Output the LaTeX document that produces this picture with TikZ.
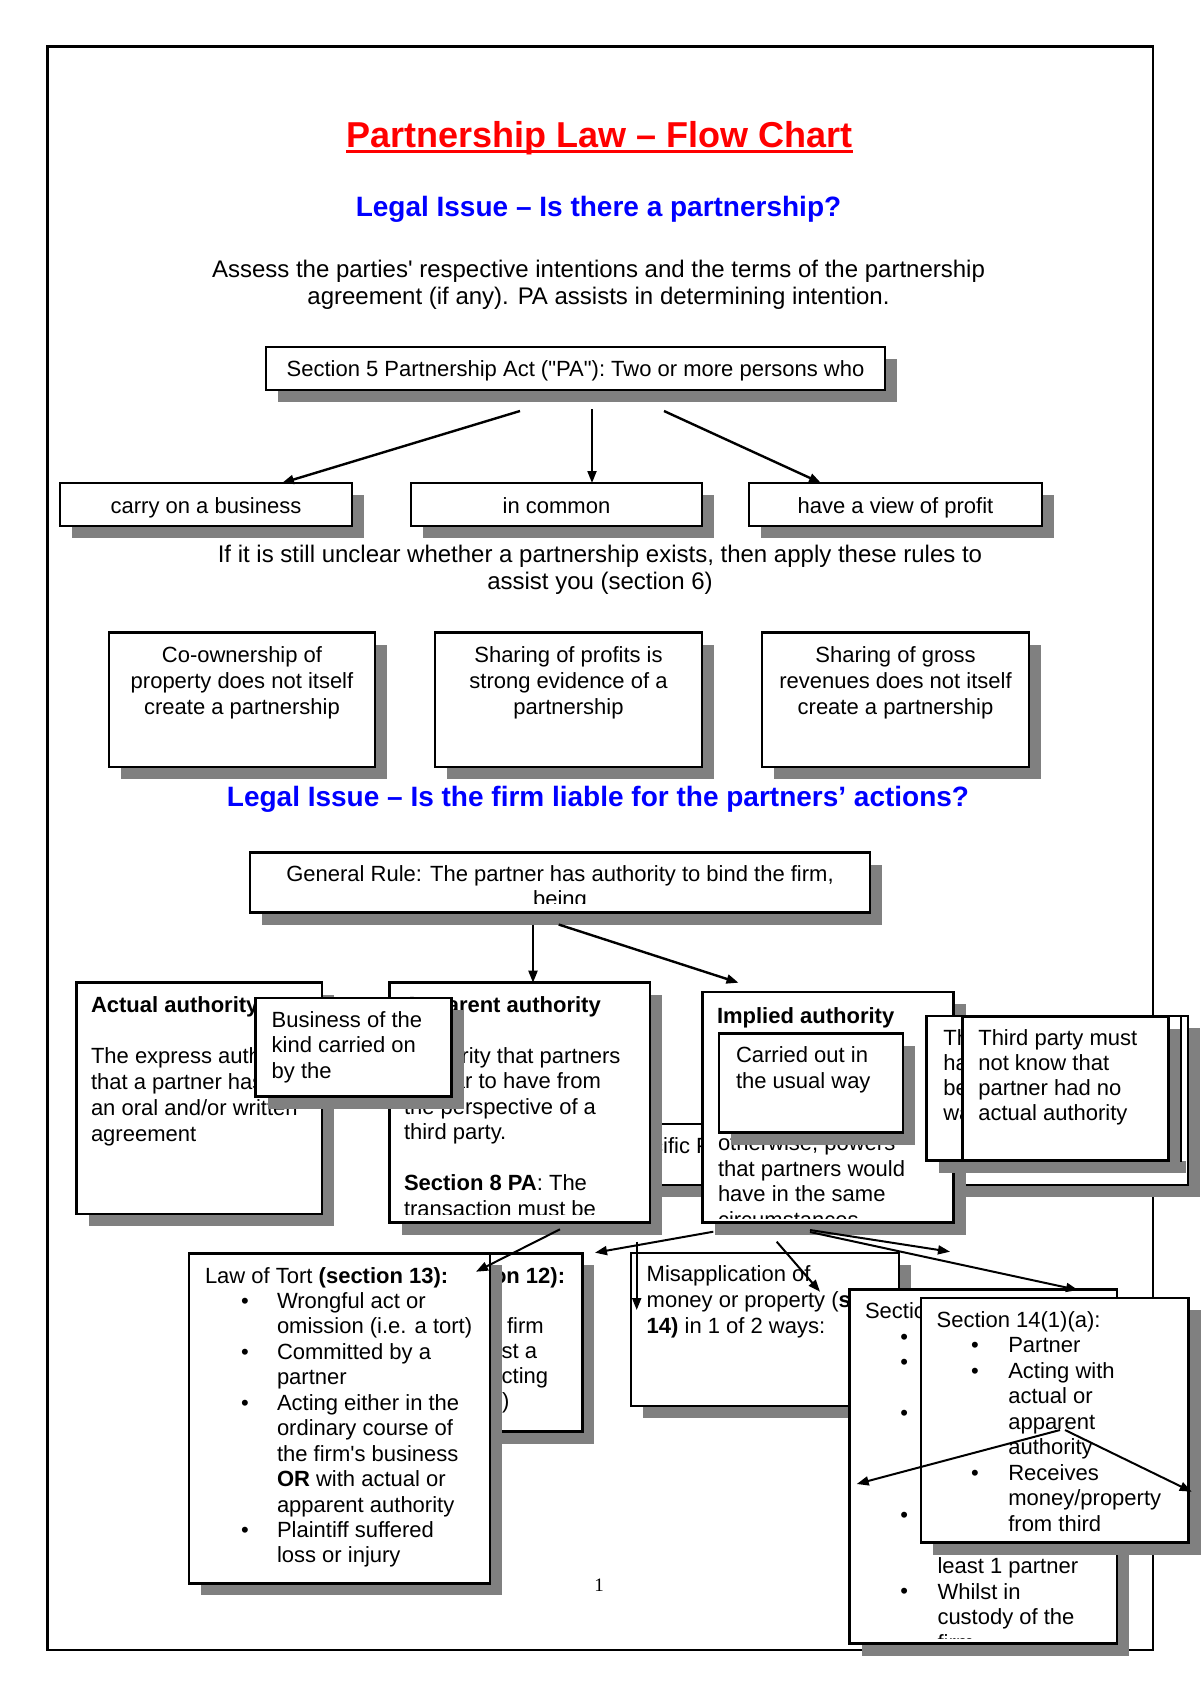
\documentclass[tikz,border=0pt]{standalone}
\usepackage{fontspec}
\setmainfont{Liberation Sans}
\newfontfamily\serifpn{Liberation Serif}
\usetikzlibrary{shadows,arrows.meta}
\definecolor{shgray}{HTML}{808080}
\definecolor{tred}{HTML}{FF0000}
\definecolor{tblue}{HTML}{0000FF}
\tikzset{
 box/.style={draw=black, line width=2.6pt, fill=white, inner sep=0pt, outer sep=0pt, rectangle},
 shad/.style={drop shadow={shadow xshift=12pt, shadow yshift=-12pt, fill=shgray, opacity=1}},
 txt/.style={inner sep=0pt, outer sep=0pt, anchor=base west, font=\fontsize{22}{25.5}\selectfont},
 btxt/.style={txt, font=\fontsize{22}{25.5}\selectfont\bfseries},
 ctxt/.style={txt, anchor=base},
 ptxt/.style={txt, anchor=base, font=\fontsize{24}{27}\selectfont},
 arr/.style={line width=2pt, -{Triangle[length=12pt,width=9pt]}},
}
\newcommand\mkbox[6][]{%
 \pgfmathsetmacro\bxw{#5-#3}\pgfmathsetmacro\bxh{#6-#4}%
 \pgfmathsetmacro\bxx{(#3+#5)/2}\pgfmathsetmacro\bxy{(#4+#6)/2}%
 \node[box,minimum width=\bxw pt,minimum height=\bxh pt,#1] (#2) at (\bxx,\bxy) {};}
\newcommand\lines[6][txt]{%
 \foreach \myl [count=\myi from 0] in {#6}{\node[#1] (#2\myi) at (#3,{#4+#5*\myi}) {\myl};}}
\newcommand\bul[3]{\node[ctxt] (#1) at (#2,#3) {•};}
\begin{document}
\begin{tikzpicture}[x=1pt,y=-1pt]
\useasboundingbox (0,0) rectangle (1200,1698);
\fill[white] (0,0) rectangle (1200,1698);
% page border
\mkbox[line width=2.5pt]{page}{47.4}{46.7}{1153}{1650}
% headings
\node[ctxt, font=\fontsize{36}{40}\selectfont\bfseries, text=tred] (title) at (599.5,147) {Partnership Law – Flow Chart};
\draw[tred, line width=2.2pt] ([yshift=-4.5pt]title.base west) -- ([yshift=-4.5pt]title.base east);
\node[ctxt, font=\fontsize{28}{32}\selectfont\bfseries, text=tblue] (sub1) at (598.5,216) {Legal Issue – Is there a partnership?};
\lines[ptxt]{para}{598.5}{277}{27}{{Assess the parties\textquotesingle{} respective intentions and the terms of the partnership},{agreement (if any). PA assists in determining intention.}}
% section 5
\mkbox[shad]{s5}{266}{347}{885}{390}
\node[ctxt] (s5t) at (575.5,376) {Section 5 Partnership Act (\textquotedbl PA\textquotedbl): Two or more persons who};
\mkbox[shad]{carry}{60}{483}{352}{526}
\mkbox[shad]{common}{411}{483}{702}{526}
\mkbox[shad]{view}{749}{483}{1042}{526}
\node[ctxt] (carryt) at (206,513) {carry on a business};
\node[ctxt] (commont) at (556.5,513) {in common};
\node[ctxt] (viewt) at (895.5,513) {have a view of profit};
\coordinate (s5a) at (520,411); \coordinate (s5b) at (592,409); \coordinate (s5c) at (664,411);
\coordinate (ta) at (282,483); \coordinate (tb) at (592,483); \coordinate (tc) at (821,483);
\draw[arr, line width=2.4pt] (s5a) -- (ta);
\draw[arr] (s5b) -- (tb);
\draw[arr, line width=2.4pt] (s5c) -- (tc);
\lines[ptxt]{unc}{600}{562.5}{26.5}{{If it is still unclear whether a partnership exists, then apply these rules to},{assist you (section 6)}}
% section 6 rules
\mkbox[shad]{co}{109}{632.5}{375}{767}
\mkbox[shad]{sp}{435}{632.5}{702}{767}
\mkbox[shad]{sg}{762}{632.5}{1029}{767}
\lines[ctxt]{cot}{242}{662.5}{26}{{Co-ownership of},{property does not itself},{create a partnership}}
\lines[ctxt]{spt}{568.5}{662.5}{26}{{Sharing of profits is},{strong evidence of a},{partnership}}
\lines[ctxt]{sgt}{895.5}{662.5}{26}{{Sharing of gross},{revenues does not itself},{create a partnership}}
\node[ctxt, font=\fontsize{28}{32}\selectfont\bfseries, text=tblue] (sub2) at (598,806.6) {Legal Issue – Is the firm liable for the partners’ actions?};
% general rule
\mkbox[shad]{gen}{250}{852.5}{870}{912.6}
\begin{scope}
\clip (250,852.5) rectangle (870,903.5);
\lines[ctxt]{gent}{560}{881.7}{25}{{General Rule: The partner has authority to bind the firm,},{being}}
\end{scope}
\coordinate (g1) at (533,924.5); \coordinate (g1t) at (533,982.7);
\coordinate (g2) at (558.7,924.5); \coordinate (g2t) at (738.5,982.7);
\draw[arr] (g1) -- (g1t);
\draw[arr, line width=2.4pt] (g2) -- (g2t);
% actual authority
\mkbox[shad]{act}{76.5}{982.7}{322}{1214}
\node[btxt] (acth) at (91,1012) {Actual authority};
\lines{actt}{91}{1063}{26}{{The express authority},{that a partner has},{an oral and/or written},{agreement}}
% specific powers (behind)
\mkbox[shad]{spec}{600}{1124}{860}{1185}
\node[txt] (spect) at (613,1153.7) {Specific Powers};
% apparent authority
\mkbox[shad]{app}{389.5}{982.7}{650}{1222.5}
\node[btxt] (apph) at (404,1012.6) {Apparent authority};
\begin{scope}
\clip (389.5,982.7) rectangle (650,1214);
\lines{appt}{404}{1063}{25.5}{{Authority that partners},{appear to have from},{the perspective of a},{third party.},{},{\textbf{Section 8 PA}: The},{transaction must be}}
\end{scope}
% business of the kind
\mkbox[shad]{bus}{255.6}{998}{451.5}{1096.7}
\lines{bust}{271.7}{1027}{25.5}{{Business of the},{kind carried on},{by the}}
% right cluster back box
\mkbox[shad]{rc}{935}{1016}{1188}{1185}
% implied authority
\mkbox[shad]{imp}{702.5}{992}{953.6}{1222.7}
\node[btxt] (imph) at (717,1023) {Implied authority};
\begin{scope}
\clip (702.5,992) rectangle (953.6,1218);
\lines{impt}{718}{1150.5}{25.5}{{otherwise, powers},{that partners would},{have in the same},{circumstances}}
\end{scope}
\mkbox[shad]{car}{719}{1033.5}{903}{1132.7}
\lines{cart}{736}{1062}{26.5}{{Carried out in},{the usual way}}
% box A and B
\fill[shgray] (939,1160.7) rectangle (1186,1173.3);
\mkbox{ra}{926.7}{1016}{1181}{1160.7}
\lines{rat}{943.3}{1045}{25}{Th,ha,be,wa}
\mkbox[shad]{rb}{962.7}{1017}{1168.3}{1160.7}
\lines{rbt}{978.3}{1045}{25}{{Third party must},{not know that},{partner had no},{actual authority}}
% section 12 (behind)
\mkbox[shad]{s12}{330}{1253.3}{582.3}{1431.7}
\node[btxt] (s12a) at (493,1283.7) {on 12):};
\node[txt] (s12b) at (507,1333.7) {firm};
\node[txt] (s12c) at (489.5,1358.7) {ast a};
\node[txt] (s12d) at (489.5,1383.7) {acting};
\node[txt] (s12e) at (491,1408.7) {y)};
% law of tort
\mkbox[shad]{tort}{189}{1253.3}{490}{1583.4}
\node[txt] (torth) at (205,1283) {Law of Tort \textbf{(section 13):}};
\lines{tortt}{277}{1308.45}{25.45}{{Wrongful act or},{omission (i.e. a tort)},{Committed by a},{partner},{Acting either in the},{ordinary course of},{the firm\textquotesingle{}s business},{\textbf{OR} with actual or},{apparent authority},{Plaintiff suffered},{loss or injury}}
\bul{tb1}{245}{1308.45}
\bul{tb2}{245}{1359.35}
\bul{tb3}{245}{1410.25}
\bul{tb4}{245}{1537}
% misapplication
\mkbox[shad]{mis}{631}{1253}{899}{1406}
\lines{mist}{646.7}{1281}{26}{{Misapplication of},{money or property (\textbf{section}},{\textbf{14)} in 1 of 2 ways:}}
% section 14(1)(b) behind
\mkbox[shad]{sb}{849.5}{1289.3}{1117}{1643.5}
\begin{scope}
\clip (849.5,1289.3) rectangle (1117,1638);
\node[txt] (sbh) at (865,1318.7) {Section 14(1)(b):};
\bul{sb1}{904.3}{1344.2}
\bul{sb2}{904.3}{1369.7}
\bul{sb3}{904.3}{1420.7}
\bul{sb4}{904.3}{1522.7}
\bul{sb5}{904.3}{1598.7}
\lines{sbt}{937.5}{1573.7}{25.5}{{least 1 partner},{Whilst in},{custody of the},{firm}}
\end{scope}
% section 14(1)(a)
\mkbox[shad]{sa}{921}{1298}{1188.5}{1542.5}
\node[txt] (sah) at (936.7,1327) {Section 14(1)(a):};
\lines{sat}{1008.3}{1352.5}{25.5}{{Partner},{Acting with},{actual or},{apparent},{authority},{Receives},{money/property},{from third}}
\bul{sa1}{975}{1352.5}
\bul{sa2}{975}{1378}
\bul{sa3}{975}{1480}
% page number
\node[anchor=base, inner sep=0pt, font=\serifpn\fontsize{19}{22}\selectfont] (pg) at (599,1591) {1};
% lower arrows
\coordinate (a1s) at (560,1229.3); \coordinate (a1t) at (476,1271.7);
\coordinate (a2s) at (713.3,1231.7); \coordinate (a2t) at (595,1252.7);
\coordinate (a3s) at (636.7,1241.7); \coordinate (a3t) at (636.7,1310);
\coordinate (a4s) at (776.7,1241.7); \coordinate (a4t) at (820,1291.7);
\coordinate (a5s) at (810,1230); \coordinate (a5t) at (950,1251.7);
\coordinate (a6s) at (810,1232); \coordinate (a6t) at (1078,1290);
\coordinate (b1s) at (1060,1430); \coordinate (b1t) at (856.7,1484);
\coordinate (b2s) at (1065,1430); \coordinate (b2t) at (1191.7,1491.7);
\foreach \p in {a1,a2,a3,a4,a5,a6,b1,b2} \draw[arr] (\p s) -- (\p t);
\end{tikzpicture}
\end{document}
